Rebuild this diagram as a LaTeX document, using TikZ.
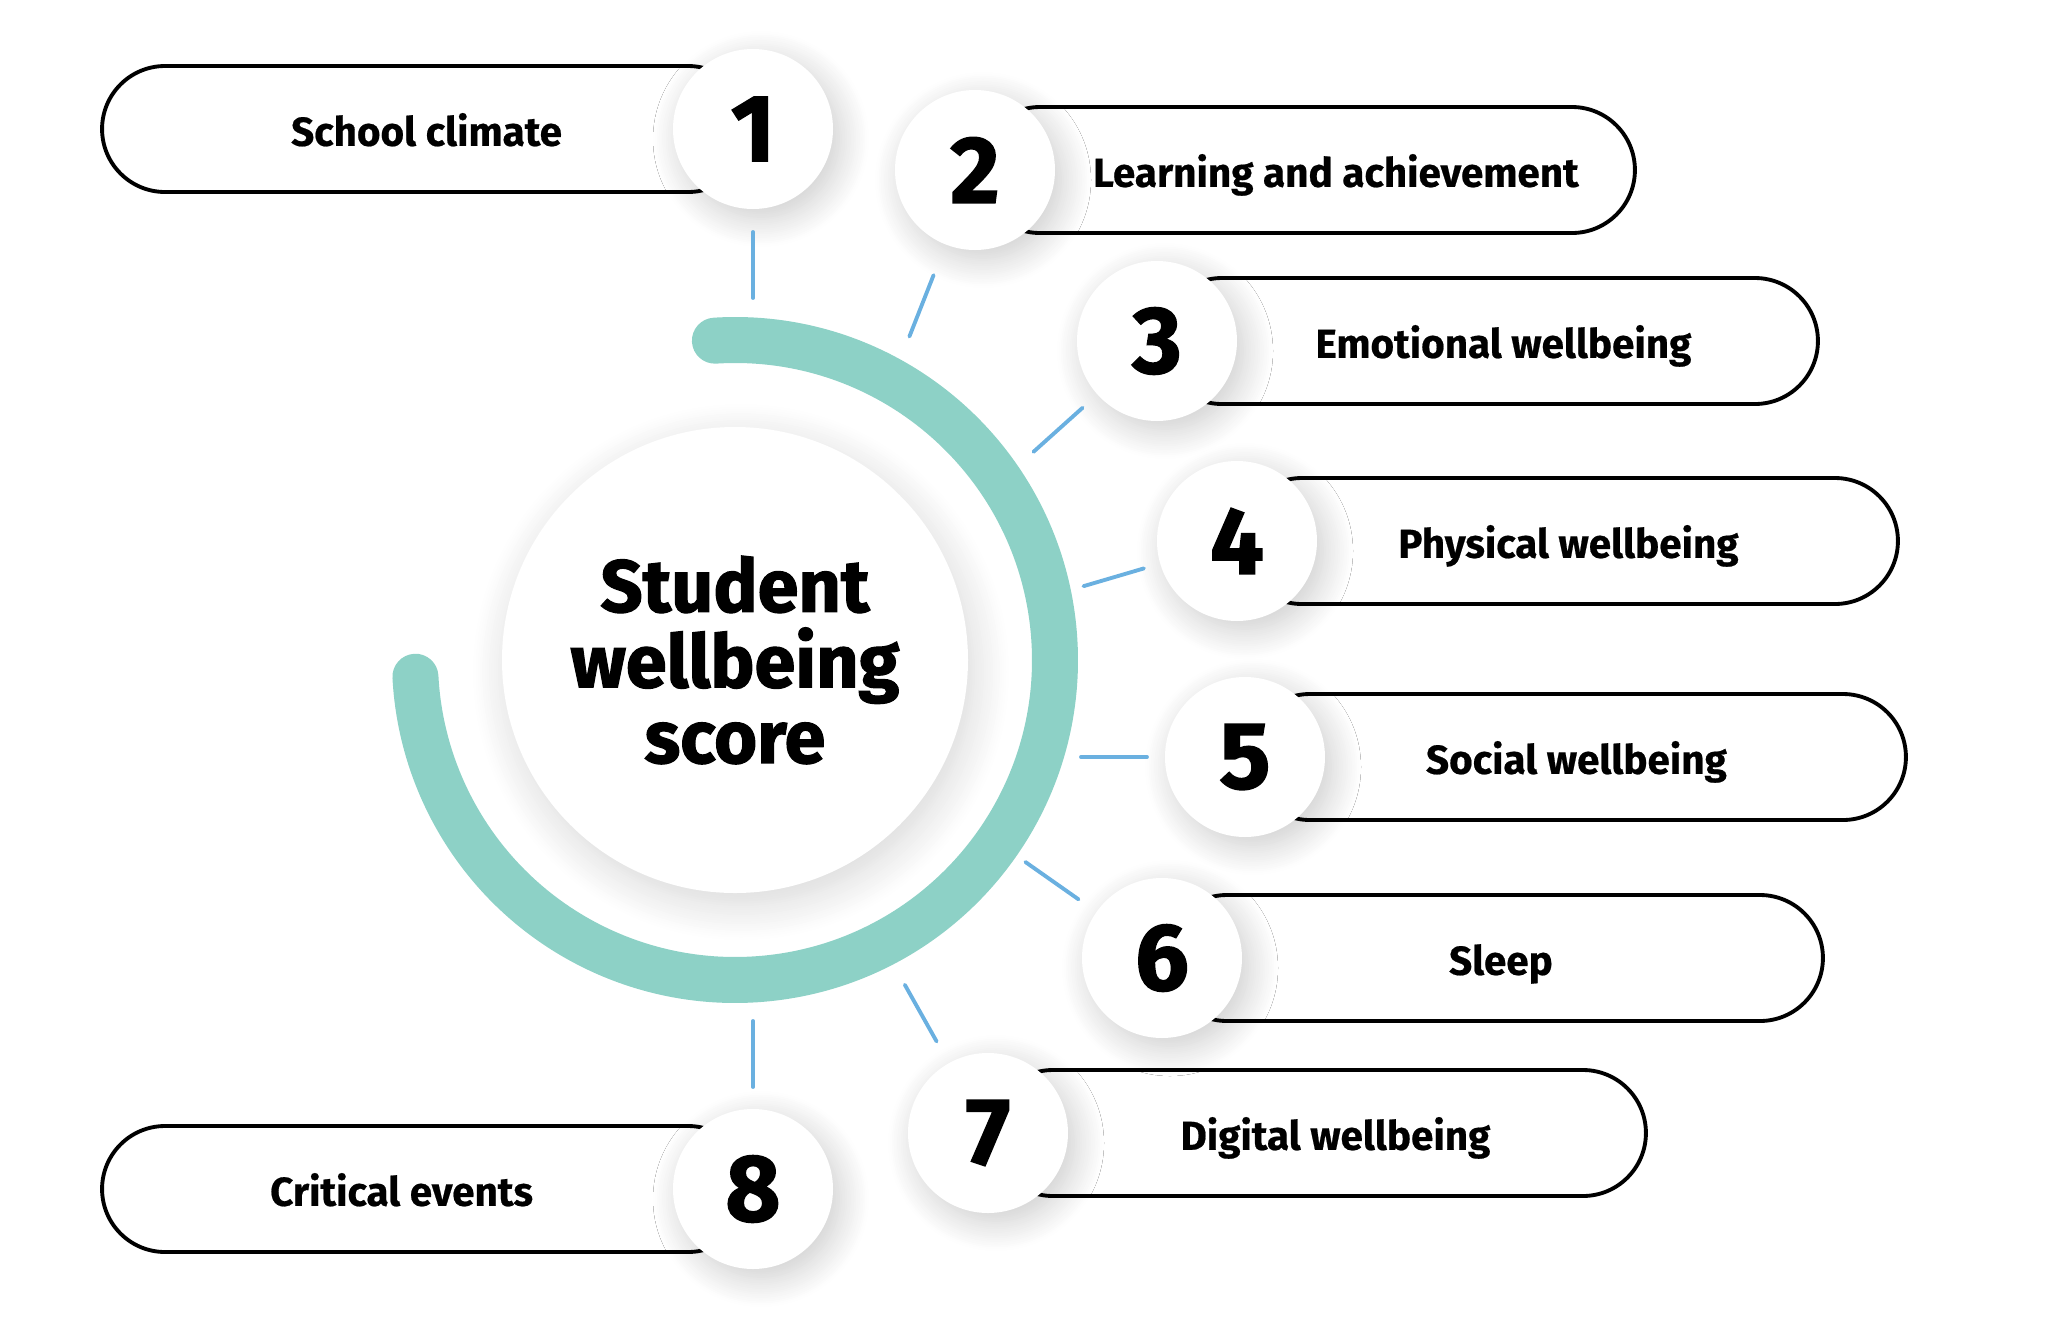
\documentclass[tikz,border=0pt]{standalone}
\usepackage{fontspec}
\setmainfont{Fira Sans}[BoldFeatures={FakeBold=0.5}]
\newfontfamily\digitfont{Fira Sans}[BoldFeatures={FakeBold=1.6}]
\usetikzlibrary{calc,shadows.blur}
\definecolor{ringteal}{HTML}{8DD1C6}
\definecolor{tickblue}{HTML}{6AB0E0}
\tikzset{
  pill/.style={draw=black, line width=1.1pt, fill=white, rounded corners=0.63cm,
    minimum height=1.26cm, inner sep=0pt, text height=0.336cm, text depth=0pt,
    font=\bfseries\fontsize{11.5}{13}\selectfont},
  num/.style={circle, fill=white, minimum size=1.6cm, inner sep=0pt,
    font=\digitfont\bfseries\fontsize{27}{30}\selectfont,
    blur shadow={shadow xshift=0.08cm, shadow yshift=-0.1cm, shadow blur radius=0.28cm,
      shadow blur steps=16, shadow opacity=20}},
  hubdisc/.style={circle, fill=white, minimum size=4.66cm, inner sep=0pt, align=center,
    font=\digitfont\bfseries\fontsize{21}{21.5}\selectfont,
    blur shadow={shadow xshift=0.06cm, shadow yshift=-0.12cm, shadow blur radius=0.35cm,
      shadow blur steps=16, shadow opacity=16}},
  ring/.style={ringteal, line width=0.46cm, line cap=round},
  tick/.style={tickblue, line width=1.1pt, line cap=round}
}
\begin{document}
\begin{tikzpicture}
\useasboundingbox (0,0) rectangle (20.48,-13.33);
% boxes
\node[pill, minimum width=6.49cm, anchor=east] (b1) at (7.53,-1.29) {School climate};
\node[pill, minimum width=6.58cm, anchor=west] (b2) at (9.75,-1.70) {\hspace*{0.6cm}Learning and achievement};
\node[pill, minimum width=6.59cm, anchor=west] (b3) at (11.57,-3.41) {\hspace*{0.3cm}Emotional wellbeing};
\node[pill, minimum width=6.59cm, anchor=west] (b4) at (12.37,-5.41) {Physical wellbeing};
\node[pill, minimum width=6.59cm, anchor=west] (b5) at (12.45,-7.57) {Social wellbeing};
\node[pill, minimum width=6.59cm, anchor=west] (b6) at (11.62,-9.58) {\hspace*{0.15cm}Sleep};
\node[pill, minimum width=6.56cm, anchor=west] (b7) at (9.88,-11.33) {\hspace*{0.35cm}Digital wellbeing};
\node[pill, minimum width=6.49cm, anchor=east] (b8) at (7.53,-11.89) {Critical events\hspace*{0.5cm}};
% number circles
\node[num] (n1) at (b1.east) {1};
\node[num] (n2) at (b2.west) {2};
\node[num] (n3) at (b3.west) {3};
\node[num] (n4) at (b4.west) {4};
\node[num] (n5) at (b5.west) {5};
\node[num] (n6) at (b6.west) {6};
\node[num] (n7) at (b7.west) {7};
\node[num] (n8) at (b8.east) {8};
% centre
\node[hubdisc] (hub) at (7.35,-6.60) {Student\\wellbeing\\score};
\draw[ring] ([shift={(93.6:3.2)}]hub.center) arc (93.6:-177:3.2);
% ticks
\draw[tick] ($(n1)+(-90:1.03)$) -- ($(n1)+(-90:1.69)$);
\draw[tick] ($(n2)+(248.5:1.13)$) -- ($(n2)+(248.5:1.79)$);
\draw[tick] ($(n3)+(221.9:1.0)$) -- ($(n3)+(221.9:1.66)$);
\draw[tick] ($(n4)+(196.4:0.97)$) -- ($(n4)+(196.4:1.6)$);
\draw[tick] ($(n5)+(180:0.98)$) -- ($(n5)+(180:1.64)$);
\draw[tick] ($(n6)+(144.9:1.02)$) -- ($(n6)+(144.9:1.67)$);
\draw[tick] ($(n7)+(119.3:1.05)$) -- ($(n7)+(119.3:1.7)$);
\draw[tick] ($(n8)+(90:1.02)$) -- ($(n8)+(90:1.68)$);
\end{tikzpicture}
\end{document}
